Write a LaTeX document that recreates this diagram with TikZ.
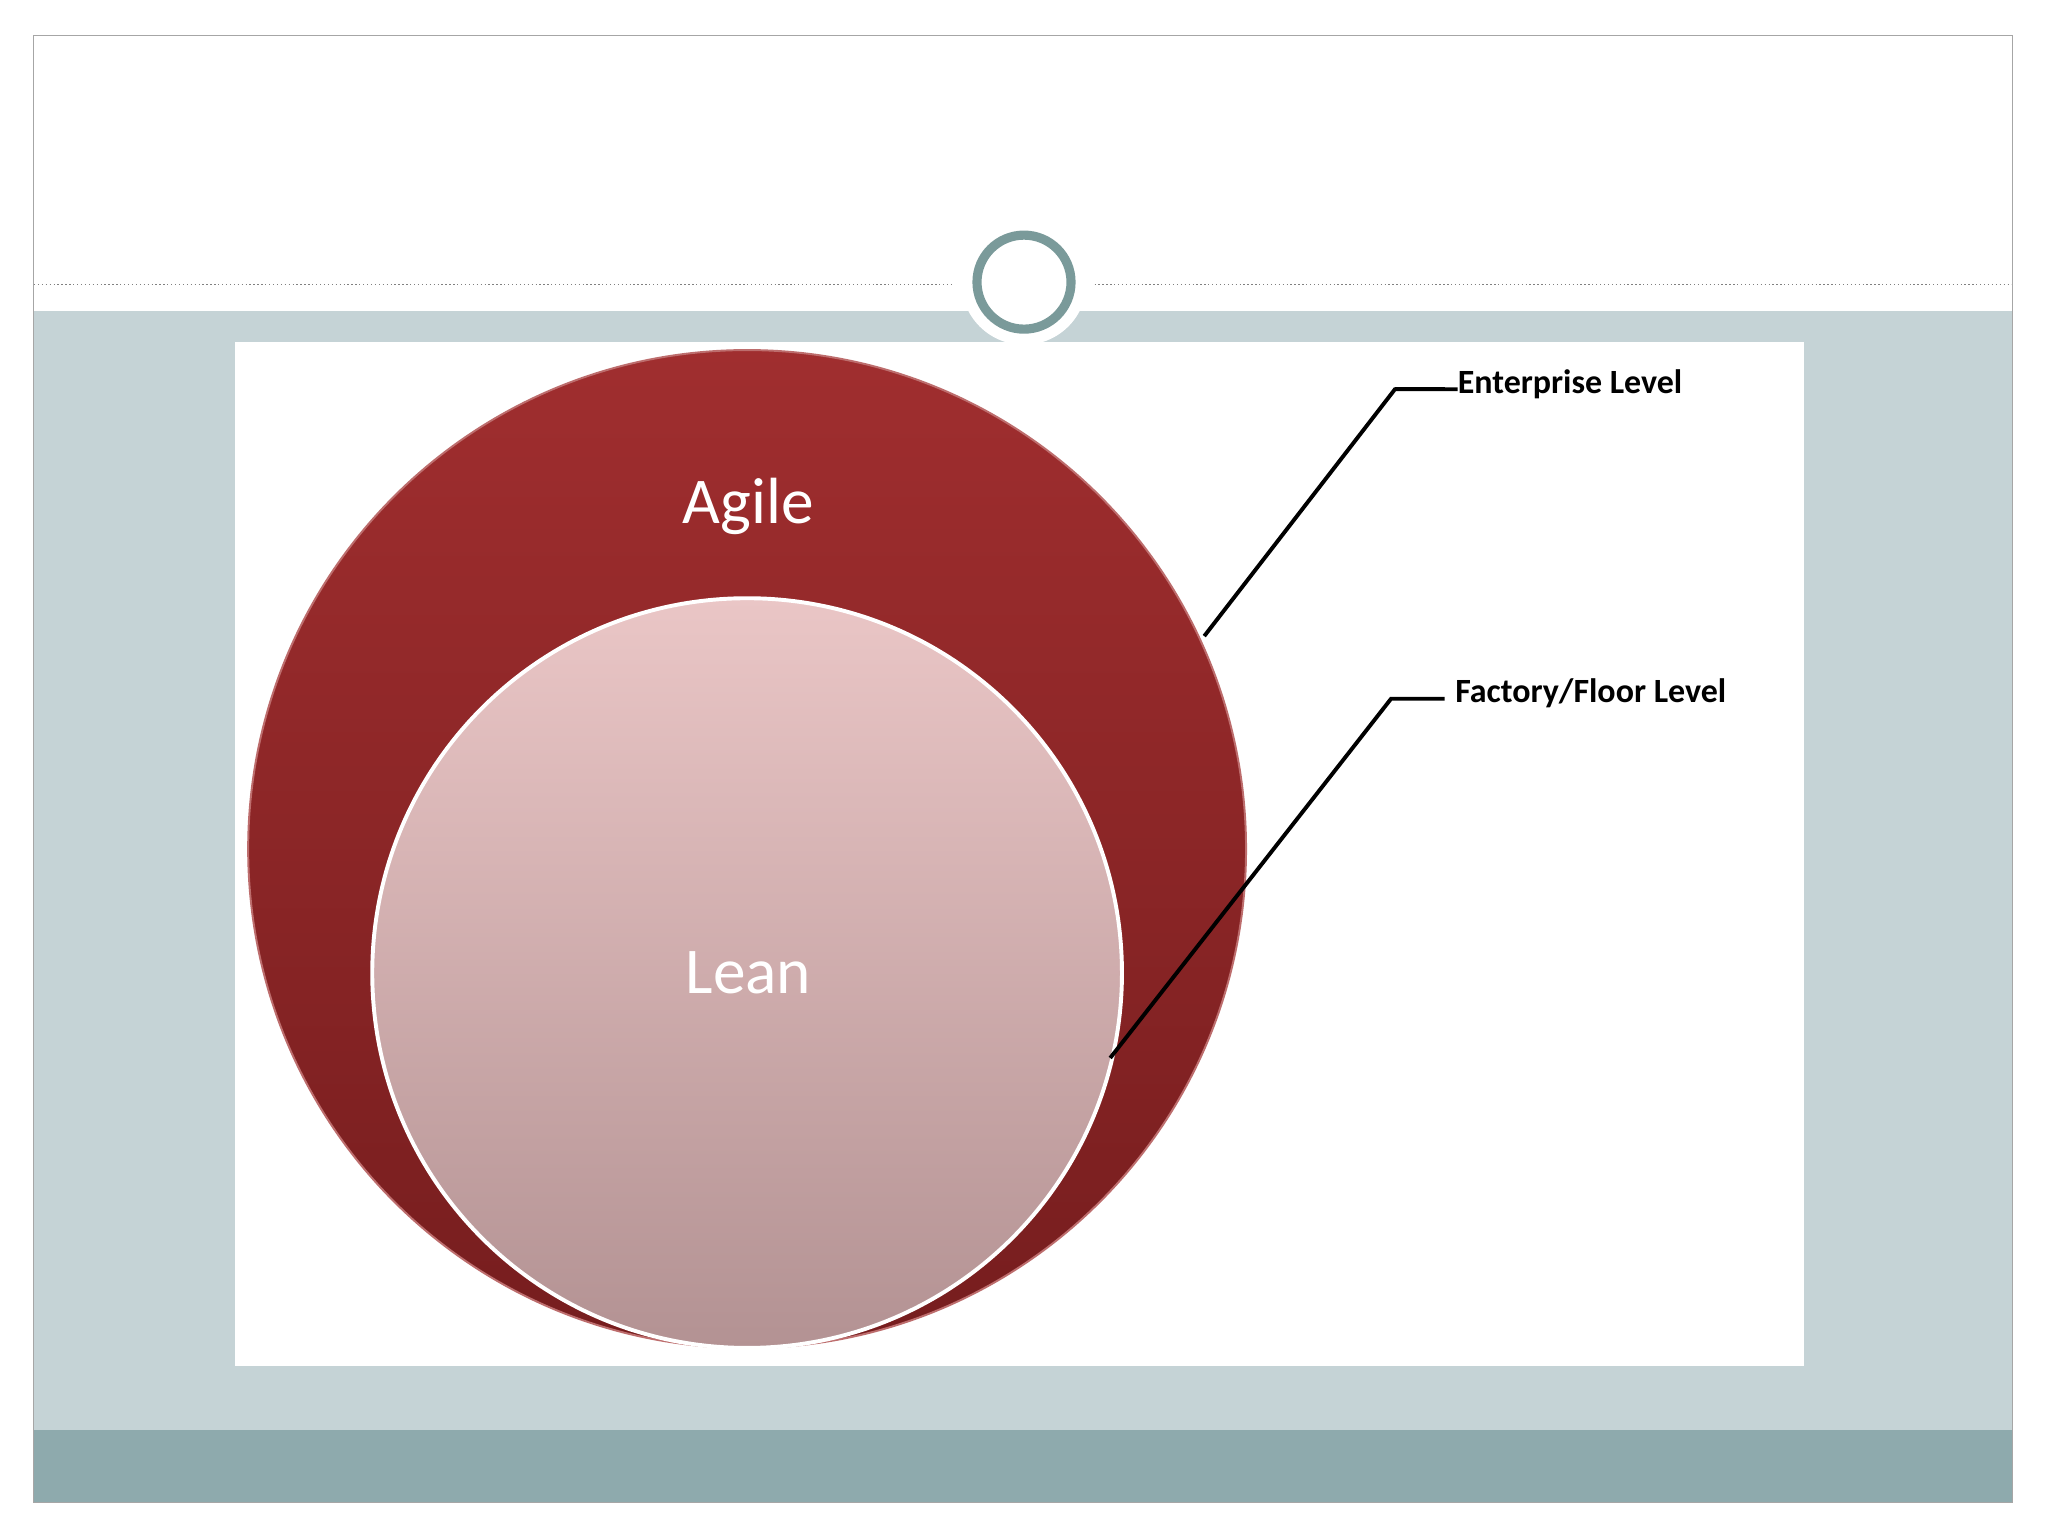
\documentclass[tikz,border=0pt]{standalone}
\usepackage{fontspec}
\setmainfont{Carlito}
\definecolor{band}{HTML}{C5D3D6}
\definecolor{foot}{HTML}{8EAAAD}
\definecolor{ring}{HTML}{7A9A9A}
\definecolor{redtop}{HTML}{A02E2F}
\definecolor{redbot}{HTML}{761D1E}
\definecolor{pinktop}{HTML}{EAC6C6}
\definecolor{pinkbot}{HTML}{B39293}
\tikzset{lbl/.style={anchor=west,font=\bfseries\fontsize{26}{30}\selectfont,inner sep=0pt},
 big/.style={text=white,font=\fontsize{50}{56}\selectfont},
 leader/.style={line width=3pt,black}}
\begin{document}
\begin{tikzpicture}[x=1pt,y=-1pt]
\useasboundingbox (0,0) rectangle (1568,1176);
\fill[white] (0,0) rectangle (1568,1176);
\fill[band] (26,238) rectangle (1541,1095);
\fill[foot] (26,1095) rectangle (1541,1150);
\draw[gray!70,line width=0.8pt] (26,27) rectangle (1541,1150);
\draw[gray,dotted,line width=1pt] (26,218) -- (730,218);
\draw[gray,dotted,line width=1pt] (838,218) -- (1540,218);
\fill[white] (784,216) circle (48);
\node[circle,draw=ring,line width=7pt,fill=white,minimum size=72pt] (ring) at (784,216) {};
\fill[white] (180,262) rectangle (1381,1046);
\node[circle,minimum size=764pt,top color=redtop,bottom color=redbot,draw=redtop!70!white,line width=1.5pt] (outer) at (572,650) {};
\node[circle,minimum size=574pt,top color=pinktop,bottom color=pinkbot,draw=white,line width=3pt] (inner) at (572,745) {};
\node[big] (agile) at (573,388) {Agile};
\node[big] (lean) at (573,745) {Lean};
\node[lbl] (ent) at (1116,294) {Enterprise Level};
\node[lbl] (fac) at (1114,531) {Factory/Floor Level};
\coordinate (e1) at (922,487);
\coordinate (e2) at (1068,298);
\coordinate (f1) at (850,810);
\coordinate (f2) at (1065,535);
\draw[leader] (e1) -- (e2) -- (ent.west|-e2) -- ++(-8,0);
\draw[leader] (f1) -- (f2) -- (1106,535);
\draw[leader] (e2) -- (1106,298);
\end{tikzpicture}
\end{document}
